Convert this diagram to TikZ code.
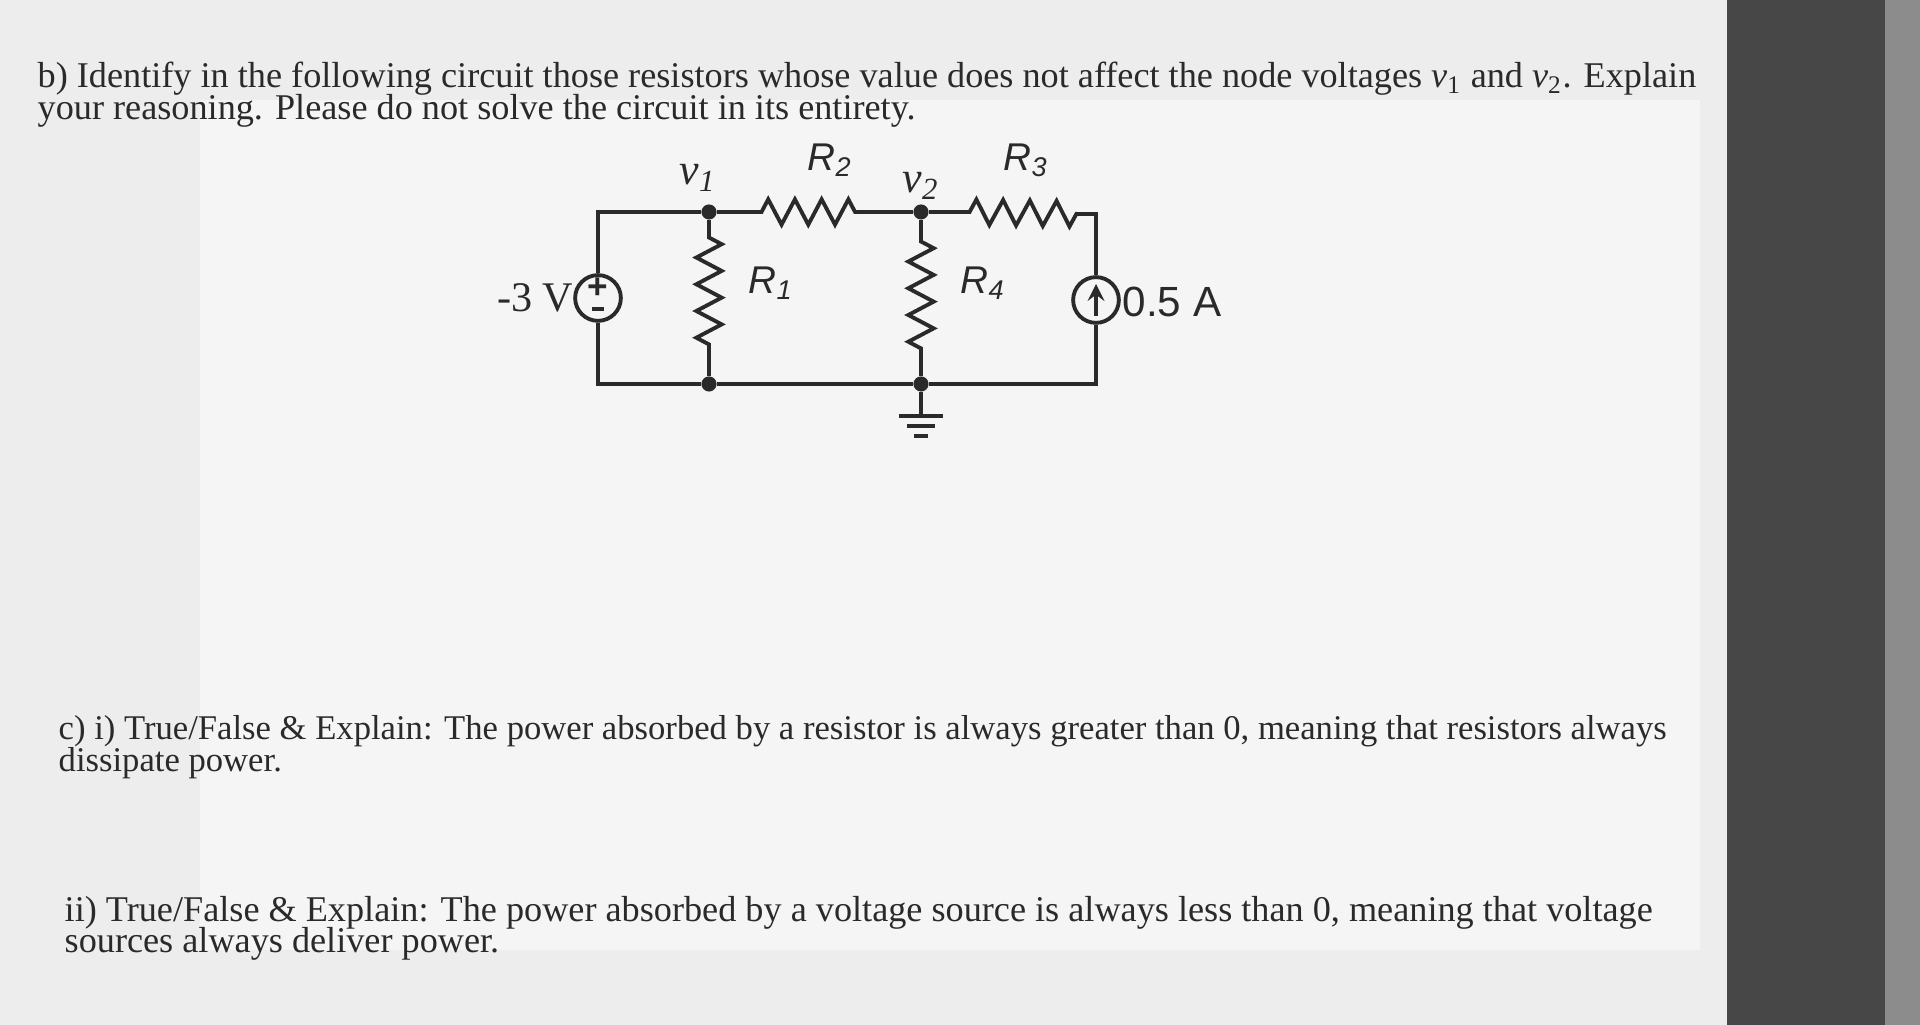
\documentclass[tikz,border=0pt]{standalone}
\usepackage{fontspec}
\setmainfont{Liberation Serif}
\setsansfont{Liberation Sans}
\usetikzlibrary{decorations.pathmorphing}
\definecolor{ink}{HTML}{2A2A2A}
\begin{document}
\begin{tikzpicture}[x=0.01cm,y=-0.01cm,
  txt/.style={anchor=base west,inner sep=0,text=ink,font=\fontsize{10.3}{13}\selectfont},
  txtc/.style={txt,font=\fontsize{9.85}{13}\selectfont},
  wire/.style={line width=1.1pt,ink},
  res/.style={wire,decorate,decoration={zigzag,segment length=7.6pt,amplitude=3.6pt,pre length=1pt,post length=1pt}},
  dot/.style={circle,fill=ink,inner sep=0,minimum size=4.3pt},
  src/.style={circle,draw=ink,line width=1.1pt,minimum size=13pt,inner sep=0},
  lab/.style={text=ink,inner sep=0,font=\sffamily\itshape\fontsize{11}{13}\selectfont},
  vlab/.style={text=ink,inner sep=0,font=\itshape\fontsize{12.5}{14}\selectfont}]
\fill[gray!14] (0,0) rectangle (1920,1025);
\fill[gray!8] (200,100) rectangle (1700,950);
\fill[black!72] (1727,0) rectangle (1885,1025);
\fill[black!45] (1885,0) rectangle (1920,1025);
\useasboundingbox (0,0) rectangle (1920,1025);

\node[txt] (t1) at (37,88) {b) Identify in the following circuit those resistors whose value does not affect the node voltages \textit{v}\textsubscript{1} and \textit{v}\textsubscript{2}. Explain};
\node[txt] (t2) at (37,120) {your reasoning. Please do not solve the circuit in its entirety.};
\node[txtc] (t3) at (58,740) {c) i) True/False \& Explain: The power absorbed by a resistor is always greater than 0, meaning that resistors always};
\node[txtc] (t4) at (58,772) {dissipate power.};
\node[txt] (t5) at (64,922) {ii) True/False \& Explain: The power absorbed by a voltage source is always less than 0, meaning that voltage};
\node[txt] (t6) at (64,953) {sources always deliver power.};

% circuit
\coordinate (tl) at (598,212);
\coordinate (bl) at (598,384);
\node[dot] (n1) at (709,212) {};
\node[dot] (n2) at (921,212) {};
\node[dot] (b1) at (709,384) {};
\node[dot] (g) at (921,384) {};
\coordinate (tr) at (1096,214);
\coordinate (br) at (1096,384);
\node[src] (vs) at (598,298) {};
\node[src] (cs) at (1096,300) {};
\coordinate (r2a) at (758,212); \coordinate (r2b) at (868,212);
\coordinate (r3a) at (966,212); \coordinate (r3b) at (1080,214);
\coordinate (r1a) at (709,234); \coordinate (r1b) at (709,356);
\coordinate (r4a) at (921,238); \coordinate (r4b) at (921,362);
\coordinate (gnd) at (921,416);

\draw[wire] (vs.north) -- (tl) -- (n1) -- (r2a);
\draw[res] (r2a) -- (r2b);
\draw[wire] (r2b) -- (n2) -- (r3a);
\draw[res] (r3a) -- (r3b);
\draw[wire] (r3b) -- (tr) -- (cs.north);
\draw[wire] (cs.south) -- (br) -- (g) -- (b1) -- (bl) -- (vs.south);
\draw[wire] (n1) -- (r1a); \draw[res] (r1a) -- (r1b); \draw[wire] (r1b) -- (b1);
\draw[wire] (n2) -- (r4a); \draw[res] (r4a) -- (r4b); \draw[wire] (r4b) -- (g);
\draw[wire] (g) -- (gnd);
\draw[line width=1.4pt,ink] (899,416) -- (943,416) (907,426) -- (935,426) (914,436) -- (928,436);
\node[text=ink,font=\sffamily\bfseries\fontsize{10}{12}\selectfont] (pl) at (598,288) {+};
\draw[wire] (592,309) -- (604,309);
\draw[wire,-stealth] (1096,316) -- (1096,284);

\node[vlab] (lv1) at (698,178) {v\textsubscript{1}};
\node[vlab] (lv2) at (921,186) {v\textsubscript{2}};
\node[lab] (lr2) at (830,160) {R\textsubscript{2}};
\node[lab] (lr3) at (1026,160) {R\textsubscript{3}};
\node[lab] (lr1) at (771,283) {R\textsubscript{1}};
\node[lab] (lr4) at (983,283) {R\textsubscript{4}};
\node[anchor=east,inner sep=0,text=ink,font=\fontsize{12}{14}\selectfont] (l3v) at (574,298) {-3 V};
\node[anchor=west,inner sep=0,text=ink,font=\sffamily\fontsize{12}{14}\selectfont] (l05) at (1122,302) {0.5 A};
\end{tikzpicture}
\end{document}
